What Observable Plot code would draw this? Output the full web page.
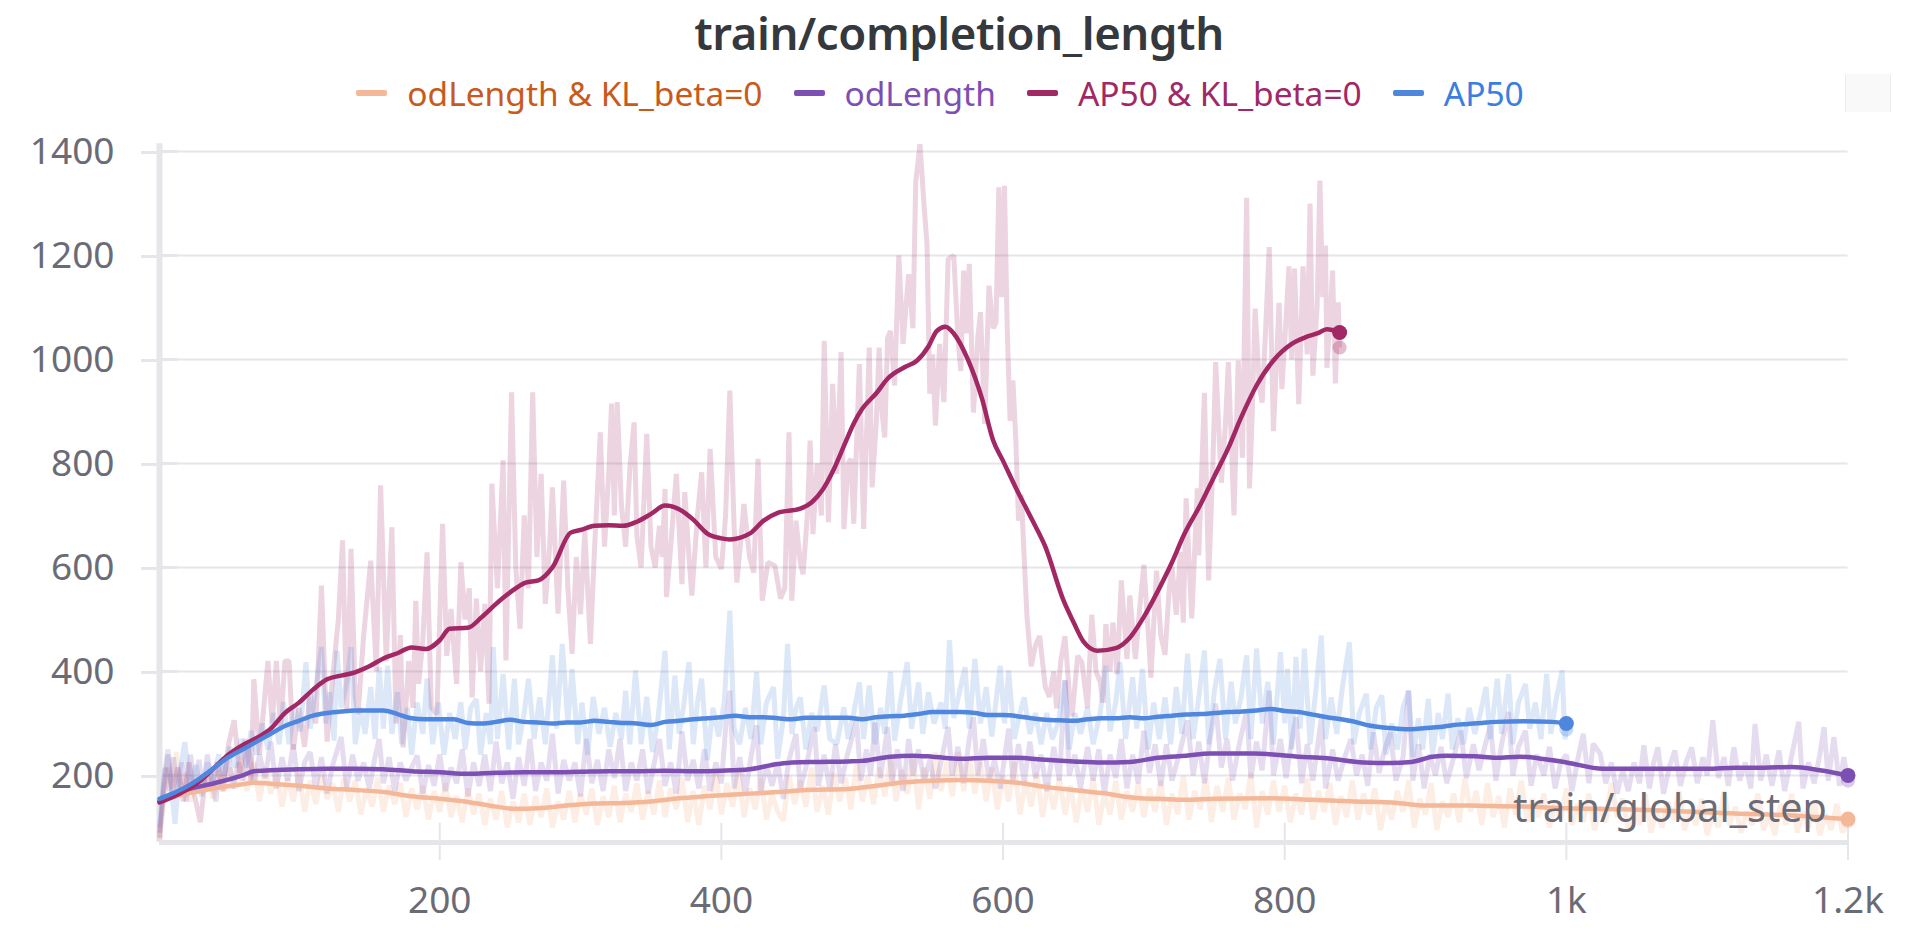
<!DOCTYPE html>
<html>
<head>
<meta charset="utf-8">
<script src="https://cdn.jsdelivr.net/npm/d3@7"></script>
<script src="https://cdn.jsdelivr.net/npm/@observablehq/plot@0.6"></script>
<style>
  html, body { margin: 0; background: #fff; overflow: hidden; }
  body { width: 1912px; height: 942px; position: relative; font-family: "Noto Sans", sans-serif; }
  #title { height: 66px; line-height: 64px; text-align: center; padding-left: 6px; font-size: 45.5px; font-weight: 600; color: #35383c; letter-spacing: -0.4px; }
  #legend { height: 54px; display: flex; justify-content: center; align-items: center; font-size: 33.5px; padding-right: 32px; }
  .item { display: flex; align-items: center; margin: 0 15.5px; }
  .swatch { width: 31px; height: 6px; border-radius: 2px; margin-right: 20px; }
  #box { position: absolute; left: 1845px; top: 74px; width: 44px; height: 38px; background: #f9f9f9; border-left: 1px solid #ececec; border-right: 1px solid #ececec; }
  #chart svg { display: block; }
</style>
</head>
<body>
<div id="title">train/completion_length</div>
<div id="legend"></div>
<div id="box"></div>
<div id="chart"></div>
<script>
const names = ["odLength & KL_beta=0", "odLength", "AP50 & KL_beta=0", "AP50"]
const lineColors = ["#f4b797", "#7e4fb3", "#a12864", "#5087de"]
const textColors = ["#c85a1c", "#7e4fb3", "#a12864", "#3b7de0"]
const xTicks = [200, 400, 600, 800, 1000, 1200]
const yTicks = [200, 400, 600, 800, 1000, 1200, 1400]

/* curvas suavizadas: [step, valor] */
const smoothOrange = [[1,150],[20,165],[40,175],[60,183],[68,186],[80,184],[100,180],[120,175],[140,172],[160,168],[180,160],[200,155],[220,149],[240,140],[252,136],[270,137],[290,142],[310,146],[330,147],[350,150],[370,156],[400,162],[420,165],[440,168],[460,172],[490,174],[510,180],[530,187],[550,190],[570,191],[590,190],[610,186],[630,178],[650,172],[670,166],[697,156],[710,155],[730,153],[750,155],[790,156],[820,153],[850,150],[880,147],[900,142],[930,142],[950,141],[970,140],[1000,137],[1040,135],[1080,131],[1120,127],[1160,123],[1200,116]]
const smoothPurple = [[1,150],[20,172],[40,185],[60,200],[68,208],[80,210],[100,212],[120,213],[140,213],[160,212],[180,208],[200,206],[220,203],[240,205],[260,206],[280,206],[300,207],[320,208],[340,208],[360,209],[380,208],[400,209],[420,212],[440,222],[450,225],[470,226],[490,227],[500,228],[520,236],[536,238],[550,236],[570,232],[590,234],[610,234],[630,230],[650,227],[670,225],[690,226],[710,234],[730,238],[747,242],[778,242],[810,236],[830,233],[856,225],[875,224],[890,226],[905,236],[915,238],[935,237],[950,234],[967,236],[985,231],[1000,225],[1026,213],[1050,213],[1080,213],[1100,213],[1120,215],[1140,215],[1160,216],[1180,210],[1200,200]]
const smoothPink = [[1,148],[10,158],[20,172],[30,190],[40,215],[50,240],[60,258],[70,272],[80,290],[90,320],[100,340],[110,365],[120,385],[130,392],[137,396],[150,410],[160,425],[170,435],[180,446],[190,443],[200,460],[207,482],[220,484],[230,505],[240,530],[250,552],[261,571],[270,575],[280,600],[293,667],[300,672],[310,680],[320,681],[330,680],[340,688],[350,703],[360,719],[370,712],[380,692],[390,665],[400,656],[406,654],[420,665],[430,690],[440,705],[456,713],[464,725],[472,750],[480,790],[488,840],[494,877],[500,905],[510,935],[518,963],[530,985],[539,998],[547,1025],[553,1055],[559,1063],[565,1050],[575,1000],[585,925],[593,844],[600,805],[610,748],[620,695],[630,640],[643,536],[650,495],[657,458],[667,440],[680,445],[690,465],[700,505],[710,555],[720,610],[728,660],[740,720],[750,775],[760,830],[769,888],[780,950],[792,998],[805,1030],[815,1043],[823,1050],[830,1058],[839,1052]]
const smoothBlue = [[1,155],[10,165],[20,178],[30,195],[40,215],[50,235],[60,250],[70,265],[80,280],[90,295],[100,305],[110,315],[120,320],[130,323],[140,325],[150,325],[160,325],[170,318],[180,310],[190,308],[210,308],[220,301],[230,300],[240,303],[250,307],[260,303],[270,302],[280,300],[290,302],[300,302],[310,305],[320,303],[330,301],[340,300],[350,297],[360,303],[370,305],[380,308],[390,310],[400,312],[410,315],[420,312],[430,312],[440,310],[450,308],[460,311],[480,311],[490,311],[500,308],[510,312],[520,314],[530,315],[540,318],[550,322],[570,322],[580,320],[590,316],[600,316],[610,314],[620,310],[630,307],[640,306],[650,305],[660,308],[670,310],[680,310],[690,312],[700,310],[710,313],[720,315],[730,317],[740,318],[750,320],[760,322],[770,323],[780,325],[790,328],[800,324],[810,322],[820,317],[830,312],[840,308],[850,303],[860,296],[870,292],[880,290],[890,289],[900,291],[910,293],[920,297],[930,299],[940,301],[950,303],[970,304],[990,303],[1000,300]]

/* valores crudos: [step, valor] */
const rawPink = [[1,80],[4,170],[7,240],[10,165],[14,215],[18,150],[22,225],[26,160],[30,110],[34,205],[38,180],[42,225],[46,170],[50,260],[54,306],[58,205],[62,270],[66,190],[68,385],[72,240],[75,330],[78,420],[81,300],[84,420],[87,290],[90,420],[93,420],[96,250],[100,330],[104,255],[108,360],[112,300],[116,565],[120,265],[124,390],[128,500],[131,652],[134,320],[137,636],[140,350],[142,318],[146,470],[151,613],[155,400],[158,758],[162,420],[166,677],[169,300],[172,470],[174,254],[178,420],[181,330],[183,536],[185,376],[188,460],[191,629],[194,331],[198,318],[202,684],[205,430],[208,520],[212,376],[215,610],[218,500],[221,560],[223,350],[226,540],[229,400],[232,530],[235,338],[237,761],[241,560],[245,806],[247,421],[251,937],[254,600],[257,482],[260,700],[263,560],[266,937],[269,620],[272,780],[275,530],[278,640],[280,754],[284,511],[288,767],[291,560],[294,434],[297,620],[300,510],[303,670],[307,453],[310,640],[314,860],[317,640],[320,780],[322,915],[324,700],[326,918],[329,720],[332,640],[335,790],[338,879],[340,660],[343,600],[347,857],[350,640],[353,600],[356,680],[358,620],[360,751],[361,543],[364,640],[368,780],[372,568],[374,745],[377,620],[379,546],[383,700],[386,783],[389,600],[392,828],[396,620],[400,597],[403,700],[406,940],[409,680],[411,571],[414,660],[416,722],[420,620],[423,590],[426,809],[429,536],[433,610],[438,603],[442,540],[445,560],[448,860],[450,536],[453,690],[456,610],[458,587],[461,700],[463,844],[465,664],[468,800],[471,700],[473,1036],[476,687],[479,953],[482,780],[485,1014],[487,674],[490,800],[492,809],[494,684],[498,991],[501,674],[505,1023],[507,754],[510,880],[512,1023],[514,900],[516,850],[518,1040],[520,1055],[523,950],[526,1200],[529,1030],[531,1100],[533,1164],[536,1060],[538,1341],[541,1414],[544,1293],[546,1222],[548,934],[550,1010],[552,873],[555,1030],[558,918],[561,1193],[565,1200],[568,1040],[570,978],[572,1171],[574,1050],[576,1184],[579,898],[582,1040],[584,1091],[587,876],[590,1142],[593,1060],[595,1071],[597,1331],[599,1120],[601,1334],[603,1055],[605,882],[607,960],[609,850],[611,690],[613,740],[615,620],[617,505],[620,410],[623,450],[626,468],[630,370],[633,351],[636,400],[638,329],[641,420],[644,468],[647,360],[649,314],[653,430],[656,417],[660,330],[663,509],[666,400],[669,380],[671,340],[673,491],[676,400],[678,494],[681,395],[684,575],[688,424],[690,546],[694,424],[697,520],[700,605],[703,480],[705,388],[709,594],[712,470],[715,432],[718,560],[720,601],[723,509],[726,630],[728,494],[730,733],[734,502],[738,752],[739,623],[743,936],[746,575],[749,800],[751,995],[755,763],[758,880],[760,995],[764,700],[767,998],[770,811],[773,1311],[775,752],[777,900],[779,1098],[782,950],[784,917],[787,1090],[789,1216],[792,862],[796,1109],[798,943],[801,1080],[803,1179],[805,1000],[807,1175],[810,914],[813,1179],[816,1010],[818,1300],[820,969],[823,1100],[825,1344],[827,1120],[829,1219],[830,984],[833,1120],[834,1171],[836,954],[838,1110],[839,1023]]
const rawBlue = [[1,100],[4,190],[7,250],[10,160],[12,107],[15,200],[19,264],[23,170],[27,220],[31,160],[35,225],[39,190],[43,240],[47,200],[51,255],[55,215],[59,270],[63,215],[66,286],[70,240],[74,300],[78,250],[82,320],[86,260],[89,341],[93,260],[97,330],[101,285],[105,418],[108,290],[112,370],[116,447],[119,300],[122,360],[125,267],[127,440],[130,330],[134,380],[137,447],[140,260],[144,330],[147,280],[151,370],[154,270],[157,408],[160,290],[163,411],[166,280],[170,360],[173,260],[177,330],[180,240],[184,340],[188,280],[191,386],[195,260],[199,340],[203,240],[207,320],[211,270],[215,341],[218,250],[222,330],[226,347],[229,240],[233,320],[236,260],[238,447],[241,270],[245,395],[249,250],[253,386],[256,260],[260,320],[263,386],[267,270],[271,350],[275,260],[280,431],[283,290],[287,453],[291,300],[294,405],[298,260],[301,340],[305,240],[309,351],[313,280],[317,330],[321,255],[325,320],[329,270],[332,363],[335,260],[339,402],[343,260],[347,351],[351,245],[355,310],[360,440],[363,250],[367,392],[370,280],[373,330],[377,418],[380,260],[383,340],[386,386],[390,229],[394,330],[398,275],[402,340],[406,517],[409,290],[413,260],[417,330],[421,270],[425,399],[428,260],[432,340],[437,370],[440,232],[444,310],[447,453],[450,280],[453,330],[456,350],[460,250],[464,320],[468,285],[473,373],[477,270],[482,261],[487,331],[490,270],[494,320],[498,379],[501,270],[505,373],[509,260],[513,330],[516,280],[520,399],[523,267],[527,340],[532,418],[535,290],[540,379],[543,280],[547,360],[551,300],[556,340],[559,290],[562,460],[565,310],[569,360],[573,408],[576,290],[580,424],[584,300],[588,370],[592,275],[598,411],[601,300],[604,402],[608,270],[612,320],[615,350],[619,280],[623,320],[627,260],[631,320],[635,270],[639,300],[644,383],[647,250],[651,320],[655,280],[660,330],[664,260],[669,320],[673,411],[676,285],[680,340],[683,418],[687,270],[692,389],[695,290],[699,405],[703,250],[707,340],[711,270],[715,350],[719,260],[723,370],[727,280],[731,434],[735,270],[739,350],[743,440],[746,260],[750,360],[754,424],[758,270],[762,380],[765,300],[769,350],[773,431],[776,270],[780,444],[784,300],[788,380],[792,260],[797,437],[800,300],[802,405],[805,250],[808,428],[811,290],[814,444],[818,260],[822,360],[826,469],[829,270],[833,350],[837,280],[841,370],[846,456],[849,260],[853,320],[858,357],[861,250],[865,330],[869,354],[872,240],[876,300],[880,250],[884,330],[888,363],[891,235],[895,310],[898,250],[902,347],[905,240],[909,320],[912,270],[916,357],[919,250],[923,310],[927,260],[931,330],[935,280],[939,320],[943,370],[946,270],[951,386],[954,280],[959,395],[962,260],[966,340],[971,376],[974,290],[978,340],[982,270],[986,395],[989,280],[993,350],[997,402],[999,270],[1000,288]]
const rawPurple = [[1,90],[3,150],[5,215],[8,170],[11,235],[14,160],[17,225],[20,150],[23,240],[26,175],[29,230],[32,170],[35,240],[38,190],[41,150],[44,225],[47,195],[50,240],[53,175],[57,225],[60,190],[64,255],[68,185],[72,240],[76,195],[80,265],[84,175],[88,235],[92,190],[96,260],[100,170],[104,225],[108,245],[112,175],[116,235],[120,165],[124,220],[130,274],[134,175],[138,240],[142,190],[146,225],[150,175],[154,235],[157,270],[160,185],[164,235],[168,170],[172,225],[176,190],[180,215],[184,238],[188,165],[192,220],[196,180],[200,240],[204,170],[208,215],[212,185],[216,250],[220,160],[224,225],[228,180],[232,240],[236,170],[240,265],[244,185],[248,225],[252,155],[256,235],[260,180],[264,270],[268,170],[272,225],[276,190],[280,280],[284,165],[288,230],[292,190],[296,225],[300,160],[304,270],[308,185],[312,230],[316,170],[320,250],[324,195],[328,270],[332,170],[336,225],[340,190],[344,250],[348,165],[352,220],[356,270],[360,180],[364,225],[368,165],[372,285],[376,190],[380,230],[384,175],[388,250],[392,170],[396,225],[400,185],[403,290],[406,363],[409,175],[413,235],[417,165],[421,235],[425,296],[428,170],[432,220],[436,180],[440,225],[444,155],[448,230],[453,280],[456,175],[460,215],[466,293],[469,180],[473,240],[477,170],[481,260],[485,185],[489,235],[492,265],[496,306],[499,190],[503,250],[506,200],[509,302],[513,195],[518,293],[521,185],[525,250],[529,170],[533,270],[536,200],[540,250],[544,190],[548,230],[552,175],[557,240],[561,293],[564,200],[568,255],[572,185],[576,270],[579,312],[582,200],[586,270],[590,190],[594,230],[598,175],[604,290],[607,190],[611,260],[615,185],[619,265],[623,195],[627,240],[631,170],[636,255],[640,190],[644,383],[647,200],[651,240],[655,175],[660,255],[664,190],[668,250],[672,165],[676,240],[680,195],[684,270],[688,175],[692,240],[696,185],[700,286],[704,205],[708,260],[712,180],[716,260],[720,190],[726,250],[731,306],[735,200],[739,265],[743,185],[747,270],[751,338],[755,215],[759,270],[763,190],[767,250],[773,325],[776,195],[780,265],[784,210],[789,363],[792,200],[797,270],[801,195],[804,250],[808,312],[812,185],[816,260],[820,190],[826,309],[829,175],[834,250],[838,190],[842,230],[847,270],[851,200],[855,240],[859,180],[863,283],[867,205],[871,250],[875,283],[879,190],[884,235],[888,363],[891,190],[895,260],[899,175],[903,240],[907,200],[911,255],[915,185],[920,235],[925,286],[929,195],[934,260],[938,210],[942,255],[946,296],[950,190],[954,260],[959,322],[962,200],[966,255],[971,286],[975,180],[979,240],[984,200],[988,255],[992,175],[996,225],[1000,240],[1004,170],[1008,230],[1012,280],[1016,185],[1019,261],[1024,242],[1028,185],[1032,225],[1036,165],[1040,210],[1044,170],[1048,225],[1052,185],[1055,258],[1059,175],[1062,225],[1065,254],[1069,165],[1073,215],[1077,248],[1081,180],[1085,225],[1089,254],[1093,185],[1097,235],[1100,200],[1104,306],[1108,195],[1112,235],[1115,180],[1119,254],[1123,190],[1127,225],[1131,175],[1134,299],[1138,190],[1142,240],[1146,180],[1151,248],[1155,170],[1159,225],[1165,303],[1168,175],[1172,225],[1176,185],[1180,240],[1183,293],[1186,190],[1190,274],[1194,180],[1197,235],[1200,190]]
const rawOrange = [[1,75],[4,150],[7,215],[10,175],[13,245],[16,160],[19,205],[23,150],[27,190],[31,165],[35,205],[39,155],[43,210],[47,170],[51,215],[55,175],[59,235],[63,170],[68,225],[72,150],[76,215],[80,165],[84,205],[88,140],[92,195],[96,150],[100,205],[104,130],[108,190],[112,145],[116,200],[120,155],[124,185],[128,130],[132,195],[136,150],[140,190],[144,125],[148,175],[152,140],[156,195],[160,130],[164,180],[168,145],[172,185],[176,120],[180,175],[184,135],[188,180],[192,115],[196,170],[200,130],[204,185],[208,120],[212,160],[216,110],[220,175],[224,125],[228,165],[232,105],[236,155],[240,115],[244,170],[248,100],[252,150],[256,110],[260,165],[264,105],[268,160],[272,120],[276,175],[280,100],[284,150],[288,115],[292,170],[296,110],[300,165],[304,125],[308,175],[312,105],[316,160],[320,120],[324,180],[328,110],[332,165],[336,130],[340,185],[344,115],[348,170],[352,125],[356,190],[360,120],[364,175],[368,135],[372,195],[376,110],[380,170],[384,105],[388,180],[392,135],[396,205],[400,125],[404,185],[408,140],[412,210],[416,120],[420,175],[424,135],[428,195],[432,115],[436,165],[440,130],[444,113],[448,200],[452,145],[456,190],[460,140],[464,215],[468,130],[472,180],[476,125],[480,205],[484,150],[488,195],[492,135],[496,225],[500,150],[504,200],[508,145],[512,215],[516,160],[520,235],[524,150],[528,210],[532,165],[536,240],[540,135],[544,215],[548,155],[552,245],[556,170],[560,225],[564,160],[568,245],[572,170],[576,235],[580,165],[584,225],[588,150],[592,215],[596,135],[600,200],[604,150],[608,225],[612,125],[616,190],[620,140],[624,205],[628,120],[632,185],[636,135],[640,195],[644,125],[648,180],[652,110],[656,175],[660,130],[664,195],[668,105],[672,165],[676,125],[680,190],[684,115],[688,170],[692,130],[696,185],[700,120],[704,175],[708,130],[712,190],[716,105],[720,165],[724,125],[728,200],[732,115],[736,170],[740,135],[744,195],[748,110],[752,180],[756,130],[760,195],[764,115],[768,165],[772,135],[776,205],[780,100],[784,170],[788,125],[792,190],[796,130],[800,180],[804,110],[808,165],[812,125],[816,195],[820,115],[824,170],[828,130],[832,185],[836,105],[840,160],[844,120],[848,190],[852,115],[856,165],[860,125],[864,175],[868,95],[872,150],[876,115],[880,170],[884,130],[888,190],[892,100],[896,155],[900,125],[904,185],[908,95],[912,150],[916,120],[920,165],[924,110],[928,195],[932,130],[936,170],[940,105],[944,185],[948,120],[952,160],[956,100],[960,175],[964,125],[968,190],[972,110],[976,155],[980,120],[984,165],[988,100],[992,150],[996,115],[1000,175],[1004,105],[1008,145],[1012,110],[1016,165],[1020,95],[1024,140],[1028,110],[1032,185],[1036,120],[1040,155],[1044,95],[1048,140],[1052,105],[1056,165],[1060,90],[1064,130],[1068,100],[1072,150],[1076,115],[1080,170],[1084,95],[1088,135],[1092,105],[1096,155],[1100,85],[1104,125],[1108,100],[1112,170],[1116,105],[1120,140],[1124,90],[1128,130],[1132,105],[1136,165],[1140,95],[1144,125],[1148,85],[1152,145],[1156,105],[1160,165],[1164,90],[1168,130],[1172,100],[1176,150],[1180,85],[1184,125],[1188,95],[1192,145],[1196,90],[1200,112]]

const rawSeries = [rawOrange, rawPurple, rawPink, rawBlue]
const smoothSeries = [smoothOrange, smoothPurple, smoothPink, smoothBlue]

const legend = d3.select('#legend')
names.forEach((n, i) => {
  const item = legend.append('div').attr('class', 'item').style('color', textColors[i])
  item.append('div').attr('class', 'swatch').style('background', lineColors[i])
  item.append('span').text(n)
})

const last = s => [s[s.length - 1]]
const px = d => d[0]
const py = d => d[1]

const chart = Plot.plot({
  width: 1912,
  height: 822,
  marginTop: 31,
  marginBottom: 100,
  marginLeft: 159,
  marginRight: 64.5,
  style: { fontFamily: '"Noto Sans", sans-serif', background: 'white' },
  x: { domain: [1, 1200] },
  y: { domain: [71, 1400] },
  marks: [
    Plot.ruleY(yTicks, { stroke: '#e6e6ea', strokeWidth: 2 }),
    Plot.ruleY(yTicks, { x1: 1, x2: 14, stroke: '#e6e6ea', strokeWidth: 3 }),
    Plot.ruleX(xTicks, { y1: 71, y2: 108, stroke: '#e6e6ea', strokeWidth: 2 }),
    Plot.axisX({
      ticks: xTicks,
      tickSize: 18,
      tickPadding: 26,
      strokeWidth: 2,
      stroke: '#e6e6ea',
      fill: '#6b6b76',
      fontSize: 37,
      label: null,
      tickFormat: d => d >= 1000 ? (d / 1000) + 'k' : d
    }),
    Plot.axisY({
      ticks: yTicks,
      tickSize: 18,
      tickPadding: 27,
      dy: 1,
      strokeWidth: 3,
      stroke: '#e6e6ea',
      fill: '#6b6b76',
      fontSize: 37,
      label: null,
      tickFormat: d => String(d)
    }),
    Plot.ruleY([71], { stroke: '#e6e6ea', strokeWidth: 5 }),
    Plot.ruleX([1], { y1: 71, y2: 1415, stroke: '#e6e6ea', strokeWidth: 6 }),

    /* lineas crudas */
    ...rawSeries.map((s, i) => Plot.line(s, { x: px, y: py, stroke: lineColors[i], strokeWidth: 5, strokeOpacity: i == 0 ? 0.25 : 0.2, strokeLinejoin: 'bevel', strokeLinecap: 'butt' })),
    ...rawSeries.map((s, i) => Plot.dot(last(s), { x: px, y: py, r: 7, fill: lineColors[i], fillOpacity: 0.3 })),

    /* lineas suavizadas */
    ...smoothSeries.map((s, i) => Plot.line(s, { x: px, y: py, stroke: lineColors[i], strokeWidth: 4.5, curve: 'monotone-x' })),
    ...smoothSeries.map((s, i) => Plot.dot(last(s), { x: px, y: py, r: 7.5, fill: lineColors[i] })),

    Plot.text(['train/global_step'], {
      x: 1185,
      y: 110,
      text: d => d,
      textAnchor: 'end',
      lineAnchor: 'bottom',
      fill: '#6b6b76',
      fontSize: 39.5
    })
  ]
})

d3.select('#chart').append(() => chart)
</script>
</body>
</html>
